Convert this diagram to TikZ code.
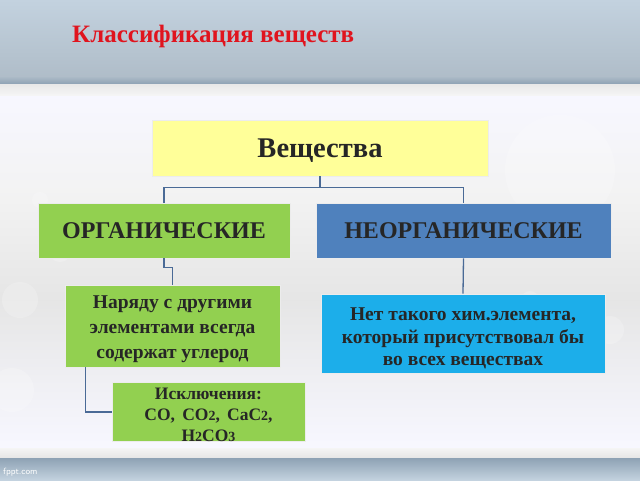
\documentclass[tikz,border=0pt]{standalone}
\usepackage{fontspec}
\setmainfont{Liberation Serif}
\usetikzlibrary{calc}
\usetikzlibrary{positioning}

\definecolor{bandblue}{HTML}{C3D2DF}
\definecolor{banddark}{HTML}{8EA2B4}
\definecolor{titlered}{HTML}{E0141E}
\definecolor{boxyellow}{HTML}{FFFF99}
\definecolor{boxgreen}{HTML}{92D050}
\definecolor{boxblue}{HTML}{4F81BD}
\definecolor{boxcyan}{HTML}{1CAEEA}
\definecolor{linkblue}{HTML}{4A6A96}

\tikzset{
    mbox/.style={draw=white!85!gray, line width=0.8pt, inner sep=0pt, align=center,
        font=\bfseries, text=black!85},
    link/.style={draw=linkblue, line width=1.3pt}
}

\begin{document}
\begin{tikzpicture}[x=1pt,y=-1pt]
\useasboundingbox (0,0) rectangle (640,480);

% background
\fill[white!97!blue] (0,0) rectangle (640,480);
\shade[top color=white!97!blue, bottom color=gray!20, middle color=gray!10]
    (0,95) rectangle (640,300);
\shade[top color=gray!20, bottom color=white!97!blue] (0,300) rectangle (640,448);
\foreach \cx/\cy/\r in {20/300/18, 60/250/12, 12/390/22, 120/345/10, 560/170/55, 610/330/14, 530/300/9, 40/200/8}
    \fill[white, opacity=0.2] (\cx,\cy) circle (\r);
% top band
\shade[top color=bandblue, bottom color=bandblue!90!black] (0,0) rectangle (640,76);
\shade[top color=bandblue!90!black, bottom color=banddark] (0,76) rectangle (640,84);
\shade[top color=gray!18, bottom color=gray!8] (0,84) rectangle (640,95);
% bottom band
\shade[top color=gray!8, bottom color=gray!20] (0,448) rectangle (640,458);
\shade[top color=banddark, bottom color=bandblue] (0,458) rectangle (640,480);

\node[anchor=base west, text=white, font=\sffamily\small, inner sep=0pt] (site) at (3,474) {fppt.com};

% title
\node[anchor=base west, text=titlered, font=\bfseries\fontsize{25}{30}\selectfont, inner sep=0pt]
    (title) at (72,42) {Классификация веществ};

% boxes
\node[mbox, fill=boxyellow, minimum width=336, minimum height=56,
    font=\bfseries\fontsize{28.5}{32}\selectfont] (subst) at (320,148) {\rule{0pt}{24pt}Вещества};
\node[mbox, fill=boxgreen, minimum width=252, minimum height=55,
    font=\bfseries\fontsize{24}{28}\selectfont] (org) at (164,230.5) {ОРГАНИЧЕСКИЕ};
\node[mbox, fill=boxblue, minimum width=295, minimum height=55,
    font=\bfseries\fontsize{24}{28}\selectfont] (inorg) at (463.5,230.5) {НЕОРГАНИЧЕСКИЕ};
\node[mbox, fill=boxgreen, minimum width=215, minimum height=82,
    font=\bfseries\fontsize{19.5}{25}\selectfont] (orgtext) at (172.5,326)
    {\rule{0pt}{19pt}Наряду с другими\\элементами всегда\\содержат углерод};
\node[mbox, fill=boxcyan, minimum width=284, minimum height=79,
    font=\bfseries\fontsize{19.5}{22.5}\selectfont] (inorgtext) at (463,333.5)
    {\rule{0pt}{23pt}Нет такого хим.элемента,\\который присутствовал бы\\во всех веществах};
\node[mbox, fill=boxgreen, minimum width=193, minimum height=56,
    font=\bfseries\fontsize{17.5}{21}\selectfont] (excl) at (208.5,412)
    {\rule{0pt}{17.5pt}Исключения:\\CO,\, CO{\fontsize{14}{14}\selectfont 2},\, CaC{\fontsize{14}{14}\selectfont 2},\\H{\fontsize{14}{14}\selectfont 2}CO{\fontsize{14}{14}\selectfont 3}};

% connectors
\coordinate (split) at ($(subst.south)+(0,11)$);
\draw[link] (subst.south) -- (split);
\draw[link] (org.north) |- (split) -| (inorg.north);
\draw[link] (org.south) -- ++(0,9) -| (orgtext.north);
\draw[link] (inorg.south) -- (inorgtext.north);
\coordinate (tap) at ($(orgtext.south west)+(21,0)$);
\draw[link] (tap) |- (excl.west);
\end{tikzpicture}
\end{document}
